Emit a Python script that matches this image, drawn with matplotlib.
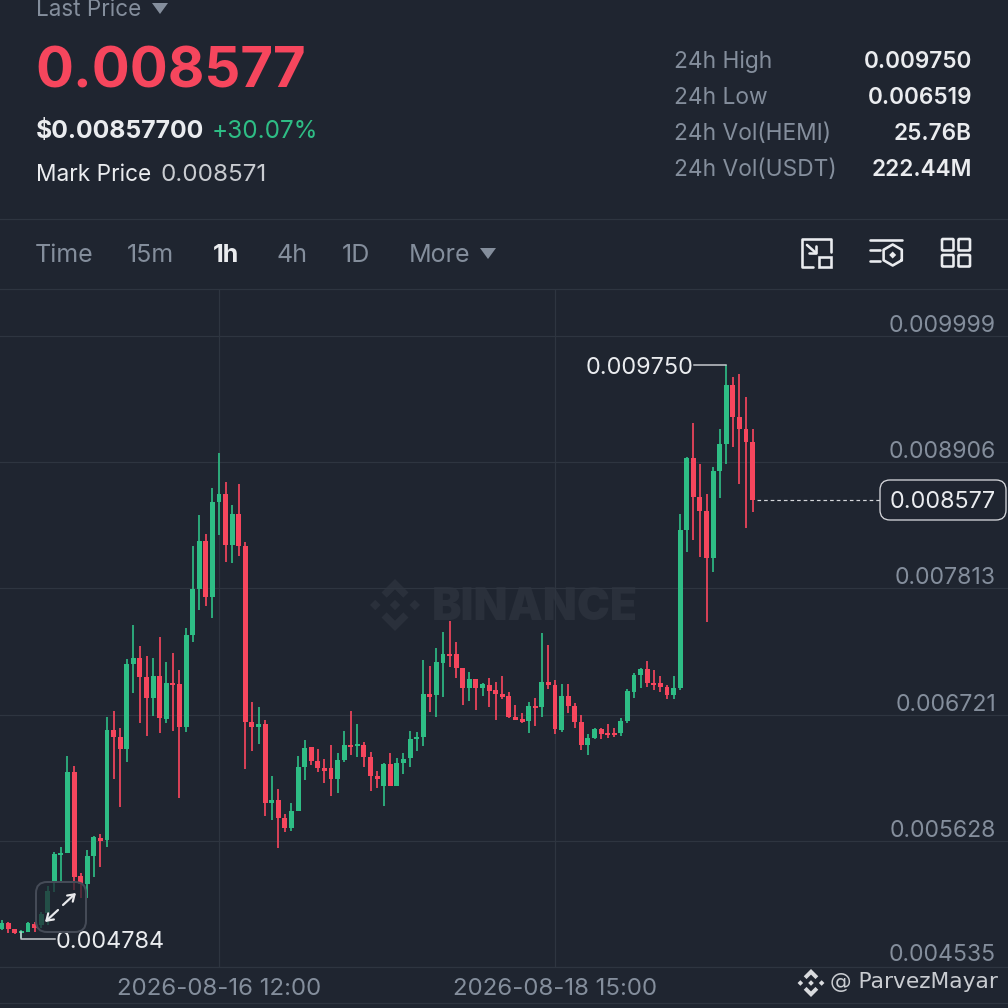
import numpy as np
import matplotlib
matplotlib.use('Agg')
import matplotlib.pyplot as plt
from matplotlib.patches import FancyBboxPatch, Polygon, Rectangle

# hourly candles, prices in millionths of USDT
opens = [4862, 4913, 4862, 4827, 4841, 4907, 4899, 5003, 5274, 5502, 5520, 6221, 5323, 5251, 5499, 5655, 5635, 6588, 6524, 6420,
         7157, 7214, 7049, 6862, 7055, 6683, 6997, 6986, 6611, 7410, 7809, 8227, 7737, 8562, 8634, 8187, 8461, 8181, 6654, 6611,
         6637, 5958, 5984, 5825, 5736, 5889, 6265, 6438, 6319, 6256, 6256, 6163, 6328, 6458, 6449, 6455, 6356, 6189, 6105, 6291,
         6105, 6299, 6343, 6507, 6524, 6899, 6891, 7171, 7246, 7246, 7127, 6954, 7027, 6949, 6977, 6931, 6897, 6880, 6698, 6680,
         6666, 6798, 6789, 7003, 6977, 6588, 6882, 6796, 6657, 6458, 6521, 6594, 6564, 6564, 6559, 6666, 6919, 7064, 7113, 6997,
         6992, 6963, 6893, 6949, 8317, 8941, 8606, 8487, 8075, 8833, 9062, 9576, 9301, 9197, 9082]
highs = [4942, 4927, 4864, 4855, 4922, 4925, 5011, 5239, 5528, 5577, 6365, 6278, 5347, 5548, 5670, 5684, 6698, 6755, 6608, 7200,
         7494, 7318, 7231, 7209, 7396, 7179, 7257, 7107, 7468, 8181, 8447, 8283, 8681, 8984, 8738, 8539, 8718, 8219, 6833, 6784,
         6672, 6189, 6074, 5860, 5958, 6365, 6501, 6443, 6420, 6334, 6460, 6391, 6576, 6752, 6637, 6486, 6400, 6228, 6302, 6386,
         6343, 6388, 6579, 6573, 7194, 7142, 7295, 7434, 7532, 7352, 7127, 7093, 7027, 6992, 7041, 7006, 7058, 6914, 6807, 6732,
         6828, 6862, 7425, 7324, 7021, 6986, 6986, 6819, 6720, 6553, 6602, 6608, 6637, 6608, 6689, 6940, 7079, 7127, 7183, 7107,
         7055, 6977, 7055, 8456, 8955, 9244, 8889, 8634, 8863, 9197, 9750, 9648, 9674, 9469, 9197]
lows = [4855, 4827, 4825, 4784, 4836, 4841, 4873, 4899, 5187, 5274, 5520, 5202, 5130, 5130, 5317, 5404, 5577, 6161, 5923, 6308,
        6911, 6651, 6536, 6712, 6564, 6646, 6579, 5996, 6573, 7347, 7627, 7662, 7555, 8277, 8045, 8037, 8095, 6247, 6408, 6466,
        5843, 5808, 5563, 5704, 5716, 5889, 6155, 6285, 6226, 6131, 6019, 6039, 6308, 6371, 6356, 6265, 6059, 6081, 5929, 6105,
        6105, 6207, 6267, 6408, 6452, 6746, 6698, 6871, 7131, 7035, 6804, 6841, 6761, 6882, 6787, 6674, 6854, 6694, 6674, 6646,
        6564, 6622, 6698, 6943, 6553, 6568, 6738, 6602, 6414, 6371, 6507, 6510, 6516, 6530, 6533, 6651, 6865, 6951, 6963, 6934,
        6917, 6854, 6856, 6934, 8132, 8233, 8089, 7520, 7953, 8600, 8889, 9041, 8721, 8335, 8476]
closes = [4919, 4862, 4827, 4849, 4913, 4870, 4994, 5196, 5511, 5525, 6221, 5317, 5251, 5496, 5658, 5626, 6588, 6524, 6420, 7157,
          7214, 7049, 6862, 7055, 6689, 6992, 6977, 6611, 7410, 7809, 8227, 7737, 8560, 8632, 8187, 8461, 8181, 6660, 6611, 6640,
          5958, 5981, 5825, 5736, 5889, 6265, 6432, 6322, 6261, 6235, 6163, 6328, 6458, 6443, 6466, 6356, 6189, 6166, 6291, 6105,
          6299, 6334, 6507, 6530, 6899, 6876, 7174, 7246, 7229, 7122, 6954, 7027, 6949, 6983, 6928, 6902, 6871, 6698, 6674, 6654,
          6798, 6781, 7003, 6977, 6594, 6882, 6796, 6657, 6458, 6521, 6594, 6553, 6547, 6542, 6668, 6923, 7064, 7113, 6997, 6977,
          6960, 6891, 6949, 8317, 8946, 8606, 8487, 8075, 8833, 9062, 9576, 9301, 9197, 9082, 8577]

grid_prices = [0.009999, 0.008906, 0.007813, 0.006721, 0.005628, 0.004535]
grid_labels = ['0.009999', '0.008906', '0.007813', '0.006721', '0.005628', '0.004535']
date_idx = [33, 84]
date_labels = ['2026-08-16 12:00', '2026-08-18 15:00']
last_price = 0.008577
high_idx, high_price, high_label = 110, 0.009750, '0.009750'
low_idx, low_price, low_label = 3, 0.004784, '0.004784'

tabs = ['Time', '15m', '1h', '4h', '1D', 'More']
tab_x = [35, 127, 213, 276, 342, 409]
stat_names = ['24h High', '24h Low', '24h Vol(HEMI)', '24h Vol(USDT)']
stat_values = ['0.009750', '0.006519', '25.76B', '222.44M']

BG = '#1f2530'
GRID = '#2e3540'
GREEN = '#2ebd85'
RED = '#f6465d'
WHITE = '#eaecef'
GRAY = '#848e9c'
PX = 0.72  # points per pixel at dpi 100

plt.rcParams['font.family'] = ['Inter', 'DejaVu Sans']

fig = plt.figure(figsize=(10.08, 10.08), dpi=100, facecolor=BG)
bg = fig.add_axes([0, 0, 1, 1], zorder=0)
bg.set_xlim(0, 1008)
bg.set_ylim(1008, 0)
bg.axis('off')

# chart area runs from pixel row 289 to 967
ax = fig.add_axes([0, 1 - 967 / 1008, 1, (967 - 289) / 1008], zorder=1)
ax.patch.set_alpha(0)
step = 6.588
ax.set_xlim(-1.6 / step, (1008 - 1.6) / step)
per_px = (grid_prices[0] - grid_prices[-1]) / (967 - 336)
ax.set_ylim(grid_prices[-1], grid_prices[-1] + (967 - 289) * per_px)
for s in ax.spines.values():
    s.set_visible(False)
ax.set_xticks([])
ax.set_yticks([])

ui = fig.add_axes([0, 0, 1, 1], zorder=2)
ui.set_xlim(0, 1008)
ui.set_ylim(1008, 0)
ui.axis('off')
ui.patch.set_alpha(0)


def binance_logo(target, cx, cy, r, color):
    top = np.array([(0, 1), (0.52, 0.48), (0.32, 0.28), (0, 0.6), (-0.32, 0.28), (-0.52, 0.48)])
    diamond = np.array([(0, 0.2), (0.2, 0), (0, -0.2), (-0.2, 0)])
    shapes = [top, top * [1, -1], diamond, diamond + [0.76, 0], diamond - [0.76, 0]]
    for pts in shapes:
        target.add_patch(Polygon(np.c_[cx + pts[:, 0] * r, cy - pts[:, 1] * r], closed=True, fc=color, ec='none'))


# watermark
binance_logo(bg, 395, 605, 26, '#2a303b')
bg.text(432, 608, 'BINANCE', color='#2a303b', fontsize=31.8, fontweight='black', va='center', ha='left')

# grid
for p, lab in zip(grid_prices, grid_labels):
    ax.axhline(p, color=GRID, lw=1.2 * PX, zorder=1)
    off = 12 if lab == grid_labels[-1] else 10
    ax.annotate(lab, xy=(1, p), xycoords=('axes fraction', 'data'), xytext=(-12 * PX, off * PX),
                textcoords='offset points', ha='right', va='center', color=GRAY, fontsize=16.6)
for i, lab in zip(date_idx, date_labels):
    ax.axvline(i, color=GRID, lw=1.2 * PX, zorder=1)
    ax.annotate(lab, xy=(i, 0), xycoords=('data', 'axes fraction'), xytext=(0, -22 * PX),
                textcoords='offset points', ha='center', va='center', color=GRAY, fontsize=17.3)

# candles
o = np.array(opens) * 1e-6
h = np.array(highs) * 1e-6
l = np.array(lows) * 1e-6
c = np.array(closes) * 1e-6
x = np.arange(len(o))
up = c >= o
for mask, col in [(up, GREEN), (~up, RED)]:
    ax.vlines(x[mask], l[mask], h[mask], color=col, lw=2.0 * PX, alpha=0.85, zorder=2)
    ax.bar(x[mask], np.abs(c - o)[mask], bottom=np.minimum(o, c)[mask], width=4.9 / step, color=col, zorder=3)

# high / low callouts
ax.plot([high_idx, high_idx - 32 / step], [high_price, high_price], color='#c9ccd1', lw=1.5 * PX, zorder=4)
ax.annotate(high_label, xy=(high_idx, high_price), xytext=(-33 * PX, -3 * PX), textcoords='offset points',
            ha='right', va='center', color=WHITE, fontsize=16.9)
ax.plot([low_idx, low_idx, low_idx + 34 / step], [low_price + 6 * per_px, low_price - per_px, low_price - per_px],
        color='#c9ccd1', lw=1.5 * PX, zorder=4)
ax.annotate(low_label, xy=(low_idx, low_price), xytext=(34 * PX, -4 * PX), textcoords='offset points',
            ha='left', va='center', color=WHITE, fontsize=16.9)

# last price tag
ax.plot([114.6, (880 - 1.6) / step], [last_price, last_price], color='#d5d7db', lw=1.2 * PX, dashes=(3, 2.5), zorder=4)
ui.add_patch(FancyBboxPatch((880, 480), 126, 40, boxstyle='round,pad=0,rounding_size=10', fc=BG, ec='#d5d7db', lw=1.3 * PX))
ui.text(943, 502, '0.008577', color=WHITE, fontsize=16.8, ha='center', va='center')

# expand button over the first candles
ui.add_patch(FancyBboxPatch((36, 882), 50, 50, boxstyle='round,pad=0,rounding_size=11', fc=BG, alpha=0.72, ec='none'))
ui.add_patch(FancyBboxPatch((36, 882), 50, 50, boxstyle='round,pad=0,rounding_size=11', fc='none', ec='#454b57', lw=2 * PX))
for a, b in [((58, 910), (45, 922)), ((63, 905), (76, 893))]:
    ui.annotate('', xy=b, xytext=a, arrowprops=dict(arrowstyle='->,head_length=0.45,head_width=0.3', color='#e8e9ec', lw=2.2 * PX, shrinkA=0, shrinkB=0))

# header
ui.text(36, 10, 'Last Price', color=GRAY, fontsize=16.2, va='center', ha='left')
ui.add_patch(Polygon([(152, 3), (168, 3), (160, 14)], fc=GRAY, ec='none'))
ui.text(35, 72, '0.008577', color=RED, fontsize=40.5, fontweight='bold', va='center', ha='left')
ui.text(36, 131, '$0.00857700', color=WHITE, fontsize=17.8, fontweight='bold', va='center', ha='left')
ui.text(212, 131, '+30.07%', color=GREEN, fontsize=17.5, va='center', ha='left')
ui.text(36, 175, 'Mark Price', color=WHITE, fontsize=16.3, va='center', ha='left')
ui.text(160, 175, '0.008571', color='#c9ccd1', fontsize=17.4, va='center', ha='left')
for i, (n, v) in enumerate(zip(stat_names, stat_values)):
    y = 62 + 36 * i
    ui.text(674, y, n, color=GRAY, fontsize=16.4, va='center', ha='left')
    ui.text(972, y, v, color=WHITE, fontsize=16.3, fontweight='semibold', va='center', ha='right')

ui.plot([0, 1008], [218.5, 218.5], color=GRID, lw=1.2 * PX)
ui.plot([0, 1008], [289, 289], color=GRID, lw=1.2 * PX)
ui.plot([0, 1008], [1003, 1003], color=GRID, lw=1.2 * PX)
ui.plot([0, 1008], [967, 967], color=GRID, lw=1.2 * PX)

# tab bar
for t, tx in zip(tabs, tab_x):
    sel = t == '1h'
    ui.text(tx, 256, t, color=WHITE if sel else GRAY, fontsize=18, fontweight='bold' if sel else 'normal', va='center', ha='left')
ui.add_patch(Polygon([(480, 248), (496, 248), (488, 259)], fc=GRAY, ec='none'))

# toolbar icons
ic = dict(color=WHITE, lw=2.6 * PX, solid_capstyle='round', solid_joinstyle='round')
ui.plot([813, 802, 802, 830.5, 830.5], [267, 267, 238.5, 238.5, 251.5], **ic)
ui.add_patch(Rectangle((818.5, 257), 12, 10, fc='none', ec=WHITE, lw=2.6 * PX))
ui.plot([807, 816], [245, 253], **ic)
ui.plot([809, 816, 816], [253, 253, 246], **ic)
ui.plot([870, 901.5], [240, 240], **ic)
ui.plot([870, 880], [250, 250], **ic)
ui.plot([870, 880], [260.5, 260.5], **ic)
ang = np.radians(np.arange(30, 391, 60))
ui.plot(892.7 + 10.5 * np.cos(ang), 255 + 10.5 * np.sin(ang), **ic)
ui.add_patch(Polygon([(892.7, 251.5), (896.2, 255), (892.7, 258.5), (889.2, 255)], fc=WHITE, ec='none'))
for sx in [942, 958.5]:
    for sy in [239, 255]:
        ui.add_patch(FancyBboxPatch((sx, sy), 11.5, 11.5, boxstyle='round,pad=0,rounding_size=1', fc='none', ec=WHITE, lw=2.6 * PX))

# footer handle
binance_logo(ui, 811, 983, 14, '#d9dbde')
ui.text(830, 982, '@ ParvezMayar', color='#c9ccd1', fontsize=15.7, va='center', ha='left', family='DejaVu Sans')

fig.savefig('out.png', dpi=100, facecolor=BG)
